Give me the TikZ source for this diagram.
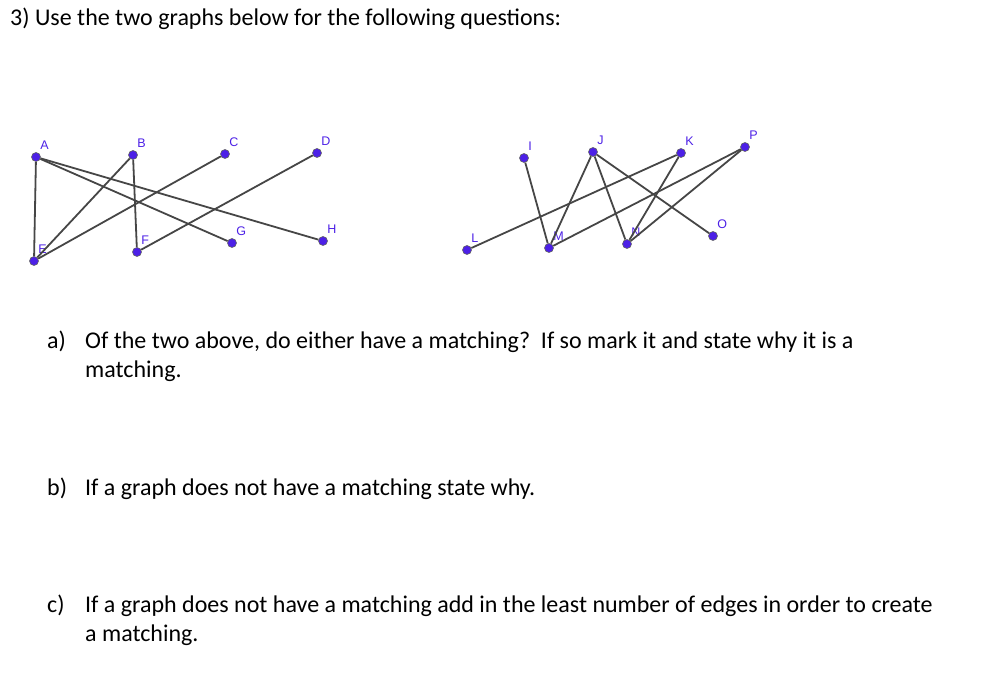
\documentclass[tikz,border=0pt]{standalone}
\usepackage{fontspec}
\setmainfont{Carlito}
\newfontfamily\geofont{Liberation Sans}
\usetikzlibrary{positioning}
\definecolor{dotblue}{RGB}{76,32,230}
\definecolor{edgegray}{RGB}{70,70,70}
\tikzset{x=1pt, y=-1pt, % one unit is one pixel of the page
vertex/.style={circle, fill=dotblue, draw=black!60, line width=0.6pt, inner sep=0pt, minimum size=9pt}, % the purple points
vlabel/.style={text=dotblue, font=\geofont\fontsize{12.5}{12.5}\selectfont, inner sep=0pt, label distance=3.5pt}, % letters next to the points
every edge/.style={draw=edgegray, line width=1.8pt}, % the segments
question/.style={anchor=base west, inner sep=0pt, font=\fontsize{24}{29}\selectfont}, % the text lines
}

\begin{document}
\begin{tikzpicture}
    \useasboundingbox (0,0) rectangle (997,676);
    \node[question] (title) at (10,26) {3) Use the two graphs below for the following questions:};
    % first graph
    \node[vertex, label={[vlabel]60:A}] (A) at (36,157) {};
    \node[vertex, label={[vlabel]60:B}] (B) at (133,155) {};
    \node[vertex, label={[vlabel]60:C}] (C) at (225,154) {};
    \node[vertex, label={[vlabel]60:D}] (D) at (317,153) {};
    \node[vertex, label={[vlabel]60:E}] (E) at (34,261) {};
    \node[vertex, label={[vlabel]60:F}] (F) at (137,252) {};
    \node[vertex, label={[vlabel]60:G}] (G) at (232,243) {};
    \node[vertex, label={[vlabel]60:H}] (H) at (323,241) {};
    \draw (A) edge (E) (A) edge (G) (A) edge (H)
    (B) edge (E) (B) edge (F)
    (C) edge (E) (D) edge (F);
    % second graph
    \node[vertex, label={[vlabel]60:I}] (I) at (524,158) {};
    \node[vertex, label={[vlabel]60:J}] (J) at (593,152) {};
    \node[vertex, label={[vlabel]60:K}] (K) at (681,153) {};
    \node[vertex, label={[vlabel]60:P}] (P) at (745,147) {};
    \node[vertex, label={[vlabel]60:L}] (L) at (467,250) {};
    \node[vertex, label={[vlabel]60:M}] (M) at (549,248) {};
    \node[vertex, label={[vlabel]60:N}] (N) at (627,244) {};
    \node[vertex, label={[vlabel]60:O}] (O) at (713,236) {};
    \draw (I) edge (M) (J) edge (M) (J) edge (N) (J) edge (O)
    (K) edge (L) (K) edge (N) (P) edge (M) (P) edge (N);
    % questions
    \node[question] (qa) at (47,348.5) {a)};
    \node[question] (ta) at (85,348.5) {Of the two above, do either have a matching?\ \ If so mark it and state why it is a};
    \node[question] (ta2) at (85,377.5) {matching.};
    \node[question] (qb) at (47,495.5) {b)};
    \node[question] (tb) at (85,495.5) {If a graph does not have a matching state why.};
    \node[question] (qc) at (47,612.5) {c)};
    \node[question] (tc) at (85,612.5) {If a graph does not have a matching add in the least number of edges in order to create};
    \node[question] (tc2) at (85,641.5) {a matching.};
\end{tikzpicture}
\end{document}
